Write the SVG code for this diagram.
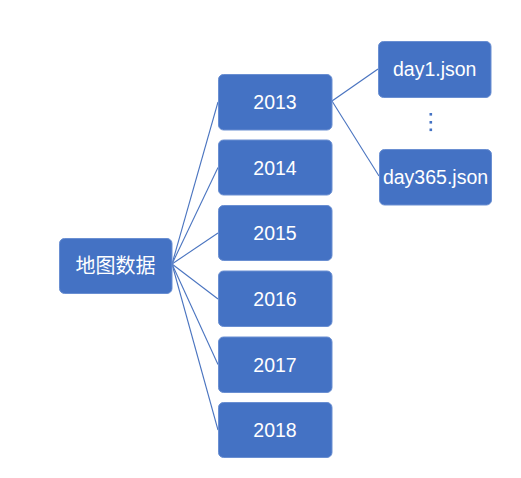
<svg xmlns="http://www.w3.org/2000/svg" width="521" height="478" viewBox="0 0 521 478">
<defs>
<style>
.box{fill:#4472C4;stroke:#6a8fd2;stroke-width:1}
.t{fill:#ffffff;font-family:"Liberation Sans","Noto Sans CJK SC",sans-serif;font-size:19.5px;text-anchor:middle}
.c{fill:#ffffff;font-family:"Noto Sans CJK SC","Liberation Sans",sans-serif;font-size:20px;text-anchor:middle}
.ln{stroke:#4a74c0;stroke-width:1.1;fill:none}
.dot{fill:#4472C4}
</style>
</defs>
<rect width="521" height="478" fill="#ffffff"/>
<g id="connectors">
<line class="ln" x1="172" y1="264" x2="218" y2="102"/>
<line class="ln" x1="172" y1="264" x2="218" y2="167.5"/>
<line class="ln" x1="172" y1="264" x2="218" y2="233"/>
<line class="ln" x1="172" y1="264" x2="218" y2="299"/>
<line class="ln" x1="172" y1="264" x2="218" y2="364.5"/>
<line class="ln" x1="172" y1="264" x2="218" y2="430"/>
<line class="ln" x1="332" y1="101" x2="378" y2="69"/>
<line class="ln" x1="332" y1="101" x2="379" y2="176"/>
</g>
<g id="root">
<rect class="box" x="59.5" y="238.5" width="112.5" height="55" rx="5"/>
<text class="c" x="115.5" y="273">地图数据</text>
</g>
<g id="y2013">
<rect class="box" x="218.5" y="74.5" width="113.5" height="55.5" rx="5"/>
<text class="t" x="275" y="109">2013</text>
</g>
<g id="y2014">
<rect class="box" x="218.5" y="140" width="113.5" height="55" rx="5"/>
<text class="t" x="275" y="174.5">2014</text>
</g>
<g id="y2015">
<rect class="box" x="218.5" y="205.5" width="113.5" height="55" rx="5"/>
<text class="t" x="275" y="240">2015</text>
</g>
<g id="y2016">
<rect class="box" x="218.5" y="271" width="113.5" height="55.5" rx="5"/>
<text class="t" x="275" y="306">2016</text>
</g>
<g id="y2017">
<rect class="box" x="218.5" y="337" width="113.5" height="55.5" rx="5"/>
<text class="t" x="275" y="371.5">2017</text>
</g>
<g id="y2018">
<rect class="box" x="218.5" y="402.5" width="113.5" height="55" rx="5"/>
<text class="t" x="275" y="437">2018</text>
</g>
<g id="day1">
<rect class="box" x="378.5" y="41.5" width="112.5" height="56" rx="5"/>
<text class="t" x="434.7" y="76">day1.json</text>
</g>
<g id="ellipsis">
<rect class="dot" x="429.5" y="113" width="2.6" height="2.6"/>
<rect class="dot" x="429.5" y="121" width="2.6" height="2.6"/>
<rect class="dot" x="429.5" y="128.5" width="2.6" height="2.6"/>
</g>
<g id="day365">
<rect class="box" x="379.5" y="149.5" width="112" height="55.5" rx="5"/>
<text class="t" x="435.5" y="184">day365.json</text>
</g>
</svg>
